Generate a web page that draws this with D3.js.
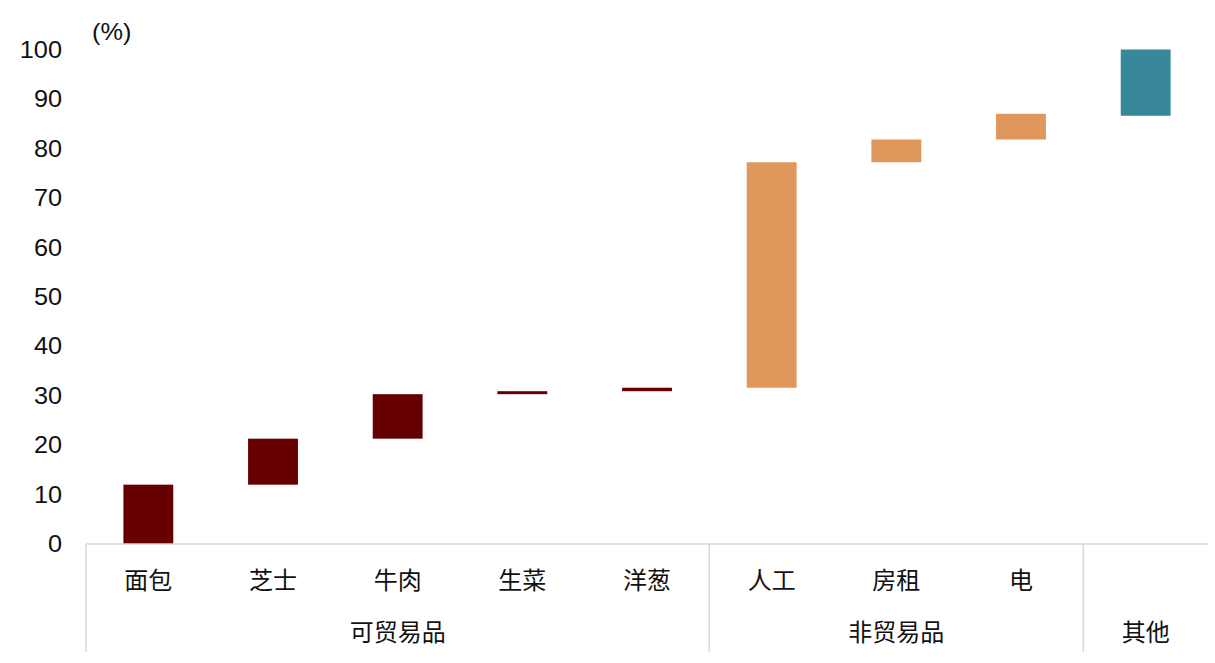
<!DOCTYPE html>
<html><head><meta charset="utf-8">
<script src="https://cdn.jsdelivr.net/npm/d3@7"></script>
<style>
body{margin:0;background:#fff;}
svg{display:block;}
</style></head>
<body>
<svg id="chart" width="1215" height="663"></svg>
<script>
const categories = ["面包","芝士","牛肉","生菜","洋葱","人工","房租","电","其他"];
const starts =     [0,    12,   21.3, 30.3, 30.9, 31.6, 77.2, 81.8, 86.6];
const ends =       [12,   21.3, 30.3, 30.9, 31.6, 77.2, 81.8, 87,   100];
const groupOf =    ["可贸易品","可贸易品","可贸易品","可贸易品","可贸易品","非贸易品","非贸易品","非贸易品","其他"];
const groups = ["可贸易品","非贸易品","其他"];
const groupColors = ["#660000","#E0975B","#38879A"];
const yTicks = [0,10,20,30,40,50,60,70,80,90,100];
const unitLabel = "(%)";

const svg = d3.select("#chart");
const x = d3.scaleBand().domain(categories).range([86,1208]).paddingInner(0.6).paddingOuter(0.3);
const y = d3.scaleLinear().domain([0,100]).range([544,49.5]);
const color = d3.scaleOrdinal().domain(groups).range(groupColors);
const latin = "Liberation Sans, Arial, sans-serif";
const cjk = "'Noto Sans CJK SC', sans-serif";

// y axis labels (slightly wide latin glyphs as in reference)
yTicks.forEach(t=>{
  svg.append("text")
    .attr("transform",`translate(62,${y(t)}) scale(1.1,1)`)
    .attr("text-anchor","end").attr("dy","0.36em")
    .attr("font-family",latin).attr("font-size",23).attr("fill","#111")
    .text(d3.format("d")(t));
});

svg.append("text").attr("transform","translate(92,40) scale(1.1,1)")
  .attr("font-family",latin).attr("font-size",23).attr("fill","#111").text(unitLabel);

// bars
svg.selectAll("rect.bar").data(categories).enter().append("rect")
  .attr("class","bar")
  .attr("x",d=>x(d))
  .attr("width",x.bandwidth())
  .attr("y",(d,i)=>y(ends[i]))
  .attr("height",(d,i)=>y(starts[i])-y(ends[i]))
  .attr("fill",(d,i)=>color(groupOf[i]));

// x axis line
svg.append("line").attr("x1",86).attr("x2",1208).attr("y1",y(0)).attr("y2",y(0)).attr("stroke","#d9d9d9").attr("stroke-width",1.5);

// group dividers
const groupBounds = groups.map(g=>{
  const cs = categories.filter((c,i)=>groupOf[i]===g);
  const step = x.step();
  const left = x(cs[0]) - (step - x.bandwidth())/2;
  const right = x(cs[cs.length-1]) + x.bandwidth() + (step - x.bandwidth())/2;
  return {g,left,right};
});
const dividers = groupBounds.map(d=>d.left);
svg.selectAll("line.div").data(dividers).enter().append("line")
  .attr("x1",d=>d).attr("x2",d=>d).attr("y1",y(0)).attr("y2",652)
  .attr("stroke","#d9d9d9").attr("stroke-width",1.5);

// category labels
svg.selectAll("text.cat").data(categories).enter().append("text")
  .attr("x",d=>x(d)+x.bandwidth()/2).attr("y",589)
  .attr("text-anchor","middle").attr("font-family",cjk).attr("font-size",24).attr("fill","#111")
  .text(d=>d==="其他"?"":d);

// group labels
svg.selectAll("text.grp").data(groupBounds).enter().append("text")
  .attr("x",d=>(d.left+d.right)/2).attr("y",641)
  .attr("text-anchor","middle").attr("font-family",cjk).attr("font-size",24).attr("fill","#111")
  .text(d=>d.g);
</script>
</body></html>
